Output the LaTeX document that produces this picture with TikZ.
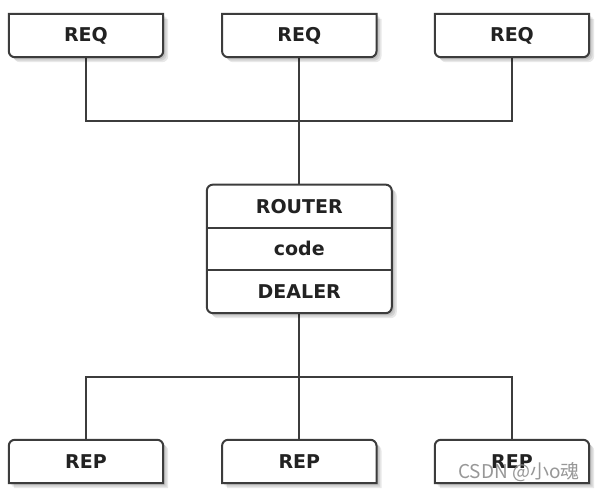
\documentclass[tikz,border=0pt]{standalone}
\usepackage{fontspec}
\setmainfont{DejaVu Sans}
\newfontfamily\cjk{Noto Sans CJK SC}
\usetikzlibrary{calc}
\definecolor{ln}{HTML}{3C3C3C}
\definecolor{tx}{HTML}{222222}
\pgfdeclarelayer{bg}
\pgfsetlayers{bg,main}
\tikzset{
  box/.style={minimum width=154pt, minimum height=43pt, inner sep=0pt,
    font=\bfseries\fontsize{19}{22}\selectfont, text=tx},
  rbox/.style={box, minimum width=184.5pt, minimum height=42.7pt},
  conn/.style={draw=ln, line width=2pt},
  border/.style={draw=ln, line width=2pt, fill=white},
  shade/.style={fill=black, opacity=0.09},
  reqpath/.style={insert path={(#1.north west) -- (#1.north east)
    -- ([yshift=6pt]#1.south east) arc(0:-90:6pt)
    -- ([xshift=6pt]#1.south west) arc(270:180:6pt) -- cycle}},
  reppath/.style={insert path={(#1.south west) -- ([yshift=-6pt]#1.north west)
    arc(180:90:6pt) -- ([xshift=-6pt]#1.north east) arc(90:0:6pt)
    -- (#1.south east) -- cycle}},
  wmark/.style={font=\cjk\fontsize{19}{22}\selectfont, text=black!45, opacity=0.9, inner sep=0pt}
}
\begin{document}
\begin{tikzpicture}[x=1pt,y=1pt]
\useasboundingbox (0,0) rectangle (598,-493);
% REQ boxes
\node[box] (q1) at (86,-35.5) {REQ};
\node[box] (q2) at (299.3,-35.5) {REQ};
\node[box] (q3) at (512,-35.5) {REQ};
% router
\node[rbox] (rt) at (299.3,-206.2) {ROUTER};
\node[rbox] (rc) at (299.3,-248.9) {code};
\node[rbox] (rd) at (299.3,-291.6) {DEALER};
% REP boxes
\node[box] (p1) at (86,-461.5) {REP};
\node[box] (p2) at (299.3,-461.5) {REP};
\node[box] (p3) at (512,-461.5) {REP};
% junctions
\coordinate (jt) at (299.3,-121);
\coordinate (jb) at (299.3,-376.5);
\begin{pgfonlayer}{bg}
  \fill[white] (0,0) rectangle (598,-493);
  \draw[conn] (q1.south) |- (jt);
  \draw[conn] (q3.south) |- (jt);
  \draw[conn] (q2.south) -- (rt.north);
  \draw[conn] (rd.south) -- (p2.north);
  \draw[conn] (p1.north) |- (jb);
  \draw[conn] (p3.north) |- (jb);
  \foreach \d in {2,3.5,5}{
    \begin{scope}[transform canvas={shift={(\d pt,-\d pt)}}]
      \foreach \n in {q1,q2,q3}{\fill[shade][reqpath=\n];}
      \foreach \n in {p1,p2,p3}{\fill[shade][reppath=\n];}
      \fill[shade, rounded corners=6pt] (rt.north west) rectangle (rd.south east);
    \end{scope}
  }
  \foreach \n in {q1,q2,q3}{\path[border][reqpath=\n];}
  \foreach \n in {p1,p2,p3}{\path[border][reppath=\n];}
  \draw[border, rounded corners=6pt] (rt.north west) rectangle (rd.south east);
  \draw[conn] (rt.south west) -- (rt.south east);
  \draw[conn] (rc.south west) -- (rc.south east);
\end{pgfonlayer}
% watermark
\node[wmark] (wm) at (519,-472) {CSDN @小o魂};
\end{tikzpicture}
\end{document}
